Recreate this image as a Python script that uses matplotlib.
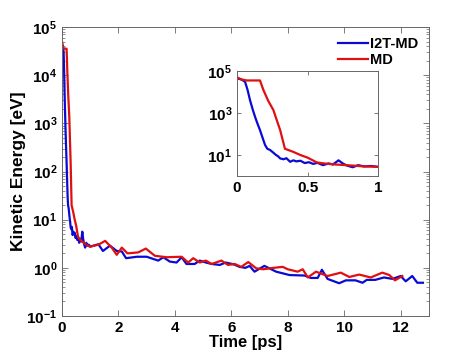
import matplotlib
matplotlib.use('Agg')
import matplotlib.pyplot as plt
import numpy as np
from matplotlib.ticker import LogLocator, NullFormatter, LogFormatterMathtext

plt.rcParams['font.family'] = ['Liberation Sans', 'DejaVu Sans']
plt.rcParams['font.weight'] = 'bold'
plt.rcParams['mathtext.fontset'] = 'custom'
plt.rcParams['mathtext.rm'] = 'Liberation Sans:bold'
plt.rcParams['mathtext.bf'] = 'Liberation Sans:bold'
plt.rcParams['mathtext.it'] = 'Liberation Sans:bold:italic'

# time [ps] and log10(kinetic energy [eV])
t_i2t = [0, 0.03, 0.057, 0.075, 0.092, 0.11, 0.128, 0.145, 0.163, 0.18, 0.199, 0.215,
         0.235, 0.26, 0.277, 0.29, 0.306, 0.33, 0.35, 0.377, 0.40, 0.42, 0.45, 0.48,
         0.51, 0.54, 0.57, 0.61, 0.65, 0.68, 0.72, 0.75, 0.78, 0.82, 0.86, 0.9, 0.95,
         1.0, 1.29, 1.45, 1.7, 1.94, 2.12, 2.27, 2.65, 3.0, 3.41, 3.59, 3.82, 4.06,
         4.24, 4.41, 4.7, 4.88, 5.1, 5.3, 5.59, 5.8, 6.1, 6.29, 6.5, 6.65, 6.82, 7.17,
         7.59, 8.06, 8.59, 8.82, 9.06, 9.21, 9.41, 9.82, 10.06, 10.4, 10.65, 10.8,
         11.1, 11.41, 11.71, 12.0, 12.18, 12.41, 12.59, 12.79]
log_i2t = [4.65, 4.6, 4.49, 4.1, 3.62, 3.2, 2.82, 2.5, 2.19, 1.85, 1.48, 1.3,
           1.24, 1.1, 1.0, 0.95, 0.84, 0.8, 0.85, 0.68, 0.75, 0.7, 0.73, 0.62,
           0.66, 0.58, 0.63, 0.52, 0.6, 0.55, 0.75, 0.6, 0.5, 0.42, 0.52, 0.46, 0.48,
           0.44, 0.49, 0.35, 0.46, 0.35, 0.34, 0.2, 0.23, 0.23, 0.15, 0.22, 0.13, 0.11,
           0.22, 0.08, 0.08, 0.15, 0.11, 0.08, 0.06, 0.11, 0.07, 0.02, 0.0, 0.04, -0.08, 0.04,
           -0.08, -0.15, -0.16, -0.21, -0.21, -0.04, -0.23, -0.32, -0.26, -0.26, -0.31, -0.25,
           -0.25, -0.2, -0.23, -0.17, -0.28, -0.17, -0.31, -0.31]

t_md = [0, 0.03, 0.07, 0.163, 0.187, 0.22, 0.258, 0.28, 0.306, 0.34, 0.40, 0.45,
        0.5, 0.566, 0.62, 0.7, 0.82, 0.9, 1.0, 1.29, 1.53, 1.76, 1.94, 2.12, 2.32,
        2.7, 2.97, 3.29, 3.71, 4.24, 4.47, 4.65, 4.88, 5.1, 5.3, 5.65, 5.88, 6.12,
        6.35, 6.6, 6.88, 7.12, 7.5, 7.82, 8.0, 8.35, 8.53, 8.71, 9.0, 9.41, 9.88,
        10.18, 10.53, 10.94, 11.35, 11.6, 11.8, 12.06]
log_md = [4.7, 4.6, 4.55, 4.55, 4.1, 3.6, 3.14, 2.7, 2.19, 1.3, 1.15, 1.0,
          0.88, 0.65, 0.6, 0.55, 0.5, 0.46, 0.44, 0.48, 0.56, 0.42, 0.27, 0.42, 0.3,
          0.32, 0.4, 0.25, 0.22, 0.23, 0.11, 0.2, 0.11, 0.15, 0.08, 0.15, 0.06, 0.08,
          0.02, 0.12, -0.01, -0.03, 0.0, 0.02, -0.03, -0.08, -0.03, -0.2, -0.08, -0.17, -0.1,
          -0.19, -0.14, -0.2, -0.1, -0.15, -0.26, -0.17]

e_i2t = 10 ** np.array(log_i2t)
e_md = 10 ** np.array(log_md)

blue = '#0a0ad2'
red = '#e01010'
spine = '#666666'

fig = plt.figure(figsize=(4.74, 3.55), dpi=100)
ax = fig.add_axes([0.1308, 0.1099, 0.774, 0.814])
ax.plot(t_i2t, e_i2t, color=blue, lw=1.6, label='I2T-MD')
ax.plot(t_md, e_md, color=red, lw=1.6, label='MD')
ax.set_yscale('log')
ax.set_xlim(0, 13)
ax.set_ylim(1e-1, 1e5)
ax.set_xticks(range(0, 13, 2))
ax.yaxis.set_major_locator(LogLocator(base=10, numticks=10))
ax.yaxis.set_major_formatter(LogFormatterMathtext())
ax.yaxis.set_minor_locator(LogLocator(base=10, subs=np.arange(2, 10), numticks=10))
ax.yaxis.set_minor_formatter(NullFormatter())
ax.tick_params(which='both', direction='in', top=True, right=True, color=spine)
ax.tick_params(which='major', length=4, width=0.6, labelsize=11)
ax.tick_params(which='minor', length=2, width=0.5)
for s in ax.spines.values():
    s.set_color(spine)
    s.set_linewidth(0.7)
ax.set_xlabel('Time [ps]', fontsize=12, fontweight='bold', labelpad=0)
ax.set_ylabel('Kinetic Energy [eV]', fontsize=12.5, fontweight='bold', labelpad=0)
ax.legend(loc='upper right', frameon=False, handlelength=2.0,
          handletextpad=0.2, labelspacing=0.1, borderaxespad=0.3,
          prop={'weight': 'bold', 'size': 10.5})

ins = fig.add_axes([0.5, 0.504, 0.2975, 0.296])
ins.plot(t_i2t, e_i2t, color=blue, lw=1.6)
ins.plot(t_md, e_md, color=red, lw=1.6)
ins.set_yscale('log')
ins.set_xlim(0, 1)
ins.set_ylim(1, 1e5)
ins.set_xticks([0, 0.5, 1])
ins.set_xticklabels(['0', '0.5', '1'])
ins.set_yticks([1e1, 1e3, 1e5])
ins.yaxis.set_major_formatter(LogFormatterMathtext())
ins.yaxis.set_minor_formatter(NullFormatter())
ins.tick_params(which='both', direction='in', top=True, right=True, color=spine)
ins.tick_params(which='major', length=3, width=0.6, labelsize=11)
ins.tick_params(which='minor', length=0)
for s in ins.spines.values():
    s.set_color(spine)
    s.set_linewidth(0.7)

fig.savefig('out.png', dpi=100)
